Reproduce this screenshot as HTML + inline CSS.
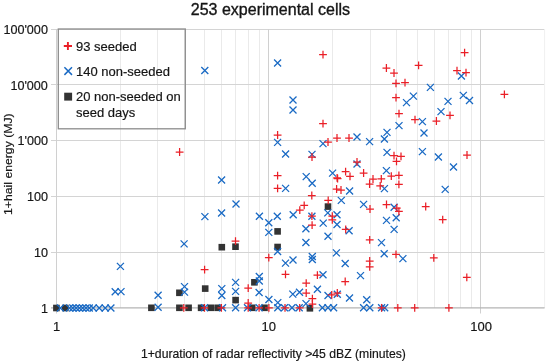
<!DOCTYPE html>
<html><head><meta charset="utf-8"><style>
html,body{margin:0;padding:0;background:#fff;}
svg{display:block;will-change:transform;}
text{font-family:"Liberation Sans",sans-serif;fill:#151515;stroke:#151515;stroke-width:0.18px;}
.ax{font-size:13px;}
.p{stroke:#ea1f27;stroke-width:1.25;fill:none;}
.x{stroke:#1a6ac4;stroke-width:1.3;fill:none;}
.s{fill:#333;}
</style></head><body>
<svg width="550" height="362" viewBox="0 0 550 362">
<rect width="550" height="362" fill="#fff"/>
<line x1="120.5" y1="29" x2="120.5" y2="308" stroke="#eaeaea" stroke-width="1"/>
<line x1="157.5" y1="29" x2="157.5" y2="308" stroke="#eaeaea" stroke-width="1"/>
<line x1="184.5" y1="29" x2="184.5" y2="308" stroke="#eaeaea" stroke-width="1"/>
<line x1="204.5" y1="29" x2="204.5" y2="308" stroke="#eaeaea" stroke-width="1"/>
<line x1="221.5" y1="29" x2="221.5" y2="308" stroke="#eaeaea" stroke-width="1"/>
<line x1="235.5" y1="29" x2="235.5" y2="308" stroke="#eaeaea" stroke-width="1"/>
<line x1="248.5" y1="29" x2="248.5" y2="308" stroke="#eaeaea" stroke-width="1"/>
<line x1="259.5" y1="29" x2="259.5" y2="308" stroke="#eaeaea" stroke-width="1"/>
<line x1="332.5" y1="29" x2="332.5" y2="308" stroke="#eaeaea" stroke-width="1"/>
<line x1="370.5" y1="29" x2="370.5" y2="308" stroke="#eaeaea" stroke-width="1"/>
<line x1="396.5" y1="29" x2="396.5" y2="308" stroke="#eaeaea" stroke-width="1"/>
<line x1="417.5" y1="29" x2="417.5" y2="308" stroke="#eaeaea" stroke-width="1"/>
<line x1="434.5" y1="29" x2="434.5" y2="308" stroke="#eaeaea" stroke-width="1"/>
<line x1="448.5" y1="29" x2="448.5" y2="308" stroke="#eaeaea" stroke-width="1"/>
<line x1="460.5" y1="29" x2="460.5" y2="308" stroke="#eaeaea" stroke-width="1"/>
<line x1="471.5" y1="29" x2="471.5" y2="308" stroke="#eaeaea" stroke-width="1"/>
<line x1="51" y1="29.5" x2="544.6" y2="29.5" stroke="#d4d4d4" stroke-width="1"/>
<line x1="51" y1="84.5" x2="544.6" y2="84.5" stroke="#d4d4d4" stroke-width="1"/>
<line x1="51" y1="140.5" x2="544.6" y2="140.5" stroke="#d4d4d4" stroke-width="1"/>
<line x1="51" y1="196.5" x2="544.6" y2="196.5" stroke="#d4d4d4" stroke-width="1"/>
<line x1="51" y1="252.5" x2="544.6" y2="252.5" stroke="#d4d4d4" stroke-width="1"/>
<line x1="56.5" y1="29" x2="56.5" y2="313.5" stroke="#d0d0d0" stroke-width="1"/>
<line x1="268.5" y1="29" x2="268.5" y2="313.5" stroke="#d0d0d0" stroke-width="1"/>
<line x1="480.5" y1="29" x2="480.5" y2="313.5" stroke="#d0d0d0" stroke-width="1"/>
<line x1="544.6" y1="29" x2="544.6" y2="308" stroke="#f0f0f0" stroke-width="1"/>
<line x1="51" y1="307.9" x2="544.6" y2="307.9" stroke="#b4b4b4" stroke-width="1.3"/>
<rect x="324.7" y="203.3" width="6.6" height="6.6" class="s"/>
<rect x="274.3" y="228.1" width="6.6" height="6.6" class="s"/>
<rect x="274.3" y="243.7" width="6.6" height="6.6" class="s"/>
<rect x="218.5" y="243.9" width="6.6" height="6.6" class="s"/>
<rect x="232.2" y="243.4" width="6.6" height="6.6" class="s"/>
<rect x="53.1" y="304.7" width="6.6" height="6.6" class="s"/>
<rect x="62.0" y="304.7" width="6.6" height="6.6" class="s"/>
<rect x="148.1" y="304.5" width="6.6" height="6.6" class="s"/>
<rect x="176.1" y="289.5" width="6.6" height="6.6" class="s"/>
<rect x="176.1" y="304.5" width="6.6" height="6.6" class="s"/>
<rect x="185.3" y="304.5" width="6.6" height="6.6" class="s"/>
<rect x="201.9" y="285.3" width="6.6" height="6.6" class="s"/>
<rect x="197.8" y="304.5" width="6.6" height="6.6" class="s"/>
<rect x="207.4" y="304.5" width="6.6" height="6.6" class="s"/>
<rect x="214.3" y="304.5" width="6.6" height="6.6" class="s"/>
<rect x="232.3" y="296.8" width="6.6" height="6.6" class="s"/>
<rect x="251.1" y="279.0" width="6.6" height="6.6" class="s"/>
<rect x="248.9" y="304.5" width="6.6" height="6.6" class="s"/>
<rect x="261.2" y="304.5" width="6.6" height="6.6" class="s"/>
<rect x="306.6" y="305.0" width="6.6" height="6.6" class="s"/>
<path d="M201.3 67.0l7 7M201.3 74.0l7 -7" class="x"/>
<path d="M274.1 59.5l7 7M274.1 66.5l7 -7" class="x"/>
<path d="M457.9 72.5l7 7M457.9 79.5l7 -7" class="x"/>
<path d="M426.9 83.9l7 7M426.9 90.9l7 -7" class="x"/>
<path d="M289.5 96.5l7 7M289.5 103.5l7 -7" class="x"/>
<path d="M289.5 106.5l7 7M289.5 113.5l7 -7" class="x"/>
<path d="M274.1 138.9l7 7M274.1 145.9l7 -7" class="x"/>
<path d="M319.5 140.1l7 7M319.5 147.1l7 -7" class="x"/>
<path d="M353.5 133.5l7 7M353.5 140.5l7 -7" class="x"/>
<path d="M366.1 138.1l7 7M366.1 145.1l7 -7" class="x"/>
<path d="M282.1 150.5l7 7M282.1 157.5l7 -7" class="x"/>
<path d="M308.5 150.9l7 7M308.5 157.9l7 -7" class="x"/>
<path d="M409.9 92.6l7 7M409.9 99.6l7 -7" class="x"/>
<path d="M403.0 99.1l7 7M403.0 106.1l7 -7" class="x"/>
<path d="M459.8 91.9l7 7M459.8 98.9l7 -7" class="x"/>
<path d="M466.0 97.0l7 7M466.0 104.0l7 -7" class="x"/>
<path d="M444.5 97.9l7 7M444.5 104.9l7 -7" class="x"/>
<path d="M437.5 108.1l7 7M437.5 115.1l7 -7" class="x"/>
<path d="M418.9 118.1l7 7M418.9 125.1l7 -7" class="x"/>
<path d="M395.5 122.1l7 7M395.5 129.1l7 -7" class="x"/>
<path d="M383.5 128.9l7 7M383.5 135.9l7 -7" class="x"/>
<path d="M420.5 129.5l7 7M420.5 136.5l7 -7" class="x"/>
<path d="M380.9 135.5l7 7M380.9 142.5l7 -7" class="x"/>
<path d="M383.5 148.9l7 7M383.5 155.9l7 -7" class="x"/>
<path d="M418.9 148.1l7 7M418.9 155.1l7 -7" class="x"/>
<path d="M434.9 153.5l7 7M434.9 160.5l7 -7" class="x"/>
<path d="M218.1 176.5l7 7M218.1 183.5l7 -7" class="x"/>
<path d="M232.5 200.5l7 7M232.5 207.5l7 -7" class="x"/>
<path d="M218.1 209.5l7 7M218.1 216.5l7 -7" class="x"/>
<path d="M353.5 160.5l7 7M353.5 167.5l7 -7" class="x"/>
<path d="M302.7 173.1l7 7M302.7 180.1l7 -7" class="x"/>
<path d="M308.7 179.7l7 7M308.7 186.7l7 -7" class="x"/>
<path d="M329.1 169.6l7 7M329.1 176.6l7 -7" class="x"/>
<path d="M282.1 184.9l7 7M282.1 191.9l7 -7" class="x"/>
<path d="M346.1 187.5l7 7M346.1 194.5l7 -7" class="x"/>
<path d="M337.8 196.9l7 7M337.8 203.9l7 -7" class="x"/>
<path d="M360.1 200.9l7 7M360.1 207.9l7 -7" class="x"/>
<path d="M382.9 167.1l7 7M382.9 174.1l7 -7" class="x"/>
<path d="M380.9 185.1l7 7M380.9 192.1l7 -7" class="x"/>
<path d="M450.0 163.5l7 7M450.0 170.5l7 -7" class="x"/>
<path d="M441.7 185.9l7 7M441.7 192.9l7 -7" class="x"/>
<path d="M390.6 203.8l7 7M390.6 210.8l7 -7" class="x"/>
<path d="M392.7 214.2l7 7M392.7 221.2l7 -7" class="x"/>
<path d="M383.0 216.9l7 7M383.0 223.9l7 -7" class="x"/>
<path d="M390.6 225.9l7 7M390.6 232.9l7 -7" class="x"/>
<path d="M345.6 227.3l7 7M345.6 234.3l7 -7" class="x"/>
<path d="M255.9 212.7l7 7M255.9 219.7l7 -7" class="x"/>
<path d="M265.3 219.2l7 7M265.3 226.2l7 -7" class="x"/>
<path d="M273.8 212.7l7 7M273.8 219.7l7 -7" class="x"/>
<path d="M289.7 211.3l7 7M289.7 218.3l7 -7" class="x"/>
<path d="M265.3 228.9l7 7M265.3 235.9l7 -7" class="x"/>
<path d="M274.1 248.0l7 7M274.1 255.0l7 -7" class="x"/>
<path d="M201.4 213.1l7 7M201.4 220.1l7 -7" class="x"/>
<path d="M180.6 240.4l7 7M180.6 247.4l7 -7" class="x"/>
<path d="M116.9 262.9l7 7M116.9 269.9l7 -7" class="x"/>
<path d="M111.7 288.3l7 7M111.7 295.3l7 -7" class="x"/>
<path d="M117.5 288.1l7 7M117.5 295.1l7 -7" class="x"/>
<path d="M154.6 291.8l7 7M154.6 298.8l7 -7" class="x"/>
<path d="M154.6 303.7l7 7M154.6 310.7l7 -7" class="x"/>
<path d="M181.0 283.1l7 7M181.0 290.1l7 -7" class="x"/>
<path d="M181.0 288.6l7 7M181.0 295.6l7 -7" class="x"/>
<path d="M201.0 304.3l7 7M201.0 311.3l7 -7" class="x"/>
<path d="M219.0 304.3l7 7M219.0 311.3l7 -7" class="x"/>
<path d="M218.3 285.1l7 7M218.3 292.1l7 -7" class="x"/>
<path d="M218.3 292.0l7 7M218.3 299.0l7 -7" class="x"/>
<path d="M232.1 278.9l7 7M232.1 285.9l7 -7" class="x"/>
<path d="M232.1 287.9l7 7M232.1 294.9l7 -7" class="x"/>
<path d="M232.1 304.3l7 7M232.1 311.3l7 -7" class="x"/>
<path d="M282.0 259.6l7 7M282.0 266.6l7 -7" class="x"/>
<path d="M289.5 256.5l7 7M289.5 263.5l7 -7" class="x"/>
<path d="M255.8 273.0l7 7M255.8 280.0l7 -7" class="x"/>
<path d="M255.8 277.5l7 7M255.8 284.5l7 -7" class="x"/>
<path d="M255.6 289.0l7 7M255.6 296.0l7 -7" class="x"/>
<path d="M244.0 304.3l7 7M244.0 311.3l7 -7" class="x"/>
<path d="M255.6 304.3l7 7M255.6 311.3l7 -7" class="x"/>
<path d="M265.4 296.0l7 7M265.4 303.0l7 -7" class="x"/>
<path d="M274.3 299.1l7 7M274.3 306.1l7 -7" class="x"/>
<path d="M274.3 304.3l7 7M274.3 311.3l7 -7" class="x"/>
<path d="M288.5 304.3l7 7M288.5 311.3l7 -7" class="x"/>
<path d="M295.7 304.3l7 7M295.7 311.3l7 -7" class="x"/>
<path d="M296.0 288.7l7 7M296.0 295.7l7 -7" class="x"/>
<path d="M289.3 290.6l7 7M289.3 297.6l7 -7" class="x"/>
<path d="M308.8 253.0l7 7M308.8 260.0l7 -7" class="x"/>
<path d="M308.8 256.0l7 7M308.8 263.0l7 -7" class="x"/>
<path d="M332.9 249.4l7 7M332.9 256.4l7 -7" class="x"/>
<path d="M341.7 260.0l7 7M341.7 267.0l7 -7" class="x"/>
<path d="M319.5 271.2l7 7M319.5 278.2l7 -7" class="x"/>
<path d="M313.9 285.8l7 7M313.9 292.8l7 -7" class="x"/>
<path d="M324.5 292.0l7 7M324.5 299.0l7 -7" class="x"/>
<path d="M333.8 290.8l7 7M333.8 297.8l7 -7" class="x"/>
<path d="M346.0 294.5l7 7M346.0 301.5l7 -7" class="x"/>
<path d="M302.5 300.1l7 7M302.5 307.1l7 -7" class="x"/>
<path d="M318.9 304.3l7 7M318.9 311.3l7 -7" class="x"/>
<path d="M324.5 304.3l7 7M324.5 311.3l7 -7" class="x"/>
<path d="M330.1 304.3l7 7M330.1 311.3l7 -7" class="x"/>
<path d="M378.0 239.1l7 7M378.0 246.1l7 -7" class="x"/>
<path d="M380.7 250.2l7 7M380.7 257.2l7 -7" class="x"/>
<path d="M357.0 272.1l7 7M357.0 279.1l7 -7" class="x"/>
<path d="M363.2 296.3l7 7M363.2 303.3l7 -7" class="x"/>
<path d="M360.1 304.3l7 7M360.1 311.3l7 -7" class="x"/>
<path d="M366.3 304.3l7 7M366.3 311.3l7 -7" class="x"/>
<path d="M378.1 304.3l7 7M378.1 311.3l7 -7" class="x"/>
<path d="M381.2 304.3l7 7M381.2 311.3l7 -7" class="x"/>
<path d="M399.4 255.1l7 7M399.4 262.1l7 -7" class="x"/>
<path d="M302.4 225.2l7 7M302.4 232.2l7 -7" class="x"/>
<path d="M319.7 219.6l7 7M319.7 226.6l7 -7" class="x"/>
<path d="M333.5 221.0l7 7M333.5 228.0l7 -7" class="x"/>
<path d="M324.5 232.8l7 7M324.5 239.8l7 -7" class="x"/>
<path d="M302.4 239.0l7 7M302.4 246.0l7 -7" class="x"/>
<path d="M308.4 212.7l7 7M308.4 219.7l7 -7" class="x"/>
<path d="M324.3 209.4l7 7M324.3 216.4l7 -7" class="x"/>
<path d="M333.5 211.3l7 7M333.5 218.3l7 -7" class="x"/>
<path d="M56.9 304.5l7 7M56.9 311.5l7 -7" class="x"/>
<path d="M66.0 304.5l7 7M66.0 311.5l7 -7" class="x"/>
<path d="M69.3 304.5l7 7M69.3 311.5l7 -7" class="x"/>
<path d="M72.6 304.5l7 7M72.6 311.5l7 -7" class="x"/>
<path d="M75.9 304.5l7 7M75.9 311.5l7 -7" class="x"/>
<path d="M79.2 304.5l7 7M79.2 311.5l7 -7" class="x"/>
<path d="M82.5 304.5l7 7M82.5 311.5l7 -7" class="x"/>
<path d="M85.8 304.5l7 7M85.8 311.5l7 -7" class="x"/>
<path d="M89.7 304.5l7 7M89.7 311.5l7 -7" class="x"/>
<path d="M95.7 304.5l7 7M95.7 311.5l7 -7" class="x"/>
<path d="M101.7 304.5l7 7M101.7 311.5l7 -7" class="x"/>
<path d="M107.4 304.5l7 7M107.4 311.5l7 -7" class="x"/>
<path d="M281.0 304.3l7 7M281.0 311.3l7 -7" class="x"/>
<path d="M319.1 54.6h7.8M323.0 50.7v7.8" class="p"/>
<path d="M382.5 68.0h7.8M386.4 64.1v7.8" class="p"/>
<path d="M390.1 73.0h7.8M394.0 69.1v7.8" class="p"/>
<path d="M414.7 65.4h7.8M418.6 61.5v7.8" class="p"/>
<path d="M460.7 52.6h7.8M464.6 48.7v7.8" class="p"/>
<path d="M453.1 70.6h7.8M457.0 66.7v7.8" class="p"/>
<path d="M462.1 72.6h7.8M466.0 68.7v7.8" class="p"/>
<path d="M392.1 83.4h7.8M396.0 79.5v7.8" class="p"/>
<path d="M401.1 82.6h7.8M405.0 78.7v7.8" class="p"/>
<path d="M500.5 94.3h7.8M504.4 90.4v7.8" class="p"/>
<path d="M175.7 152.0h7.8M179.6 148.1v7.8" class="p"/>
<path d="M319.1 123.6h7.8M323.0 119.7v7.8" class="p"/>
<path d="M273.7 135.0h7.8M277.6 131.1v7.8" class="p"/>
<path d="M324.1 142.0h7.8M328.0 138.1v7.8" class="p"/>
<path d="M333.1 138.0h7.8M337.0 134.1v7.8" class="p"/>
<path d="M345.1 138.0h7.8M349.0 134.1v7.8" class="p"/>
<path d="M392.1 97.6h7.8M396.0 93.7v7.8" class="p"/>
<path d="M395.1 113.6h7.8M399.0 109.7v7.8" class="p"/>
<path d="M446.1 115.4h7.8M450.0 111.5v7.8" class="p"/>
<path d="M411.1 119.6h7.8M415.0 115.7v7.8" class="p"/>
<path d="M432.5 121.0h7.8M436.4 117.1v7.8" class="p"/>
<path d="M390.1 155.6h7.8M394.0 151.7v7.8" class="p"/>
<path d="M397.1 156.4h7.8M401.0 152.5v7.8" class="p"/>
<path d="M463.1 155.0h7.8M467.0 151.1v7.8" class="p"/>
<path d="M308.1 157.0h7.8M312.0 153.1v7.8" class="p"/>
<path d="M353.1 162.0h7.8M357.0 158.1v7.8" class="p"/>
<path d="M273.7 175.6h7.8M277.6 171.7v7.8" class="p"/>
<path d="M333.2 177.9h7.8M337.1 174.0v7.8" class="p"/>
<path d="M341.7 171.6h7.8M345.6 167.7v7.8" class="p"/>
<path d="M346.1 176.4h7.8M350.0 172.5v7.8" class="p"/>
<path d="M359.7 173.0h7.8M363.6 169.1v7.8" class="p"/>
<path d="M369.1 179.0h7.8M373.0 175.1v7.8" class="p"/>
<path d="M365.7 184.0h7.8M369.6 180.1v7.8" class="p"/>
<path d="M273.7 188.4h7.8M277.6 184.5v7.8" class="p"/>
<path d="M332.7 189.0h7.8M336.6 185.1v7.8" class="p"/>
<path d="M337.1 190.0h7.8M341.0 186.1v7.8" class="p"/>
<path d="M307.9 195.5h7.8M311.8 191.6v7.8" class="p"/>
<path d="M324.3 200.4h7.8M328.2 196.5v7.8" class="p"/>
<path d="M366.1 209.0h7.8M370.0 205.1v7.8" class="p"/>
<path d="M300.3 205.3h7.8M304.2 201.4v7.8" class="p"/>
<path d="M295.9 210.2h7.8M299.8 206.3v7.8" class="p"/>
<path d="M392.6 161.3h7.8M396.5 157.4v7.8" class="p"/>
<path d="M387.4 176.1h7.8M391.3 172.2v7.8" class="p"/>
<path d="M395.0 175.4h7.8M398.9 171.5v7.8" class="p"/>
<path d="M377.4 178.9h7.8M381.3 175.0v7.8" class="p"/>
<path d="M376.3 185.8h7.8M380.2 181.9v7.8" class="p"/>
<path d="M395.0 184.4h7.8M398.9 180.5v7.8" class="p"/>
<path d="M421.8 206.5h7.8M425.7 202.6v7.8" class="p"/>
<path d="M438.8 219.7h7.8M442.7 215.8v7.8" class="p"/>
<path d="M382.6 204.5h7.8M386.5 200.6v7.8" class="p"/>
<path d="M392.9 208.0h7.8M396.8 204.1v7.8" class="p"/>
<path d="M395.0 211.4h7.8M398.9 207.5v7.8" class="p"/>
<path d="M341.8 229.4h7.8M345.7 225.5v7.8" class="p"/>
<path d="M231.6 241.1h7.8M235.5 237.2v7.8" class="p"/>
<path d="M179.9 307.8h7.8M183.8 303.9v7.8" class="p"/>
<path d="M200.7 269.6h7.8M204.6 265.7v7.8" class="p"/>
<path d="M200.6 307.8h7.8M204.5 303.9v7.8" class="p"/>
<path d="M217.5 307.8h7.8M221.4 303.9v7.8" class="p"/>
<path d="M264.9 257.7h7.8M268.8 253.8v7.8" class="p"/>
<path d="M281.6 274.4h7.8M285.5 270.5v7.8" class="p"/>
<path d="M244.3 288.2h7.8M248.2 284.3v7.8" class="p"/>
<path d="M244.3 303.0h7.8M248.2 299.1v7.8" class="p"/>
<path d="M244.3 307.8h7.8M248.2 303.9v7.8" class="p"/>
<path d="M255.2 307.8h7.8M259.1 303.9v7.8" class="p"/>
<path d="M265.0 307.8h7.8M268.9 303.9v7.8" class="p"/>
<path d="M281.1 307.8h7.8M285.0 303.9v7.8" class="p"/>
<path d="M295.8 307.8h7.8M299.7 303.9v7.8" class="p"/>
<path d="M313.5 275.2h7.8M317.4 271.3v7.8" class="p"/>
<path d="M302.3 283.1h7.8M306.2 279.2v7.8" class="p"/>
<path d="M341.3 281.5h7.8M345.2 277.6v7.8" class="p"/>
<path d="M302.3 293.0h7.8M306.2 289.1v7.8" class="p"/>
<path d="M308.5 298.6h7.8M312.4 294.7v7.8" class="p"/>
<path d="M308.5 304.0h7.8M312.4 300.1v7.8" class="p"/>
<path d="M327.8 294.9h7.8M331.7 291.0v7.8" class="p"/>
<path d="M333.4 293.0h7.8M337.3 289.1v7.8" class="p"/>
<path d="M365.8 239.8h7.8M369.7 235.9v7.8" class="p"/>
<path d="M392.1 254.4h7.8M396.0 250.5v7.8" class="p"/>
<path d="M365.8 261.0h7.8M369.7 257.1v7.8" class="p"/>
<path d="M365.8 266.8h7.8M369.7 262.9v7.8" class="p"/>
<path d="M377.7 307.8h7.8M381.6 303.9v7.8" class="p"/>
<path d="M393.9 307.8h7.8M397.8 303.9v7.8" class="p"/>
<path d="M429.9 257.8h7.8M433.8 253.9v7.8" class="p"/>
<path d="M462.9 277.3h7.8M466.8 273.4v7.8" class="p"/>
<path d="M410.8 307.8h7.8M414.7 303.9v7.8" class="p"/>
<path d="M445.0 307.8h7.8M448.9 303.9v7.8" class="p"/>
<path d="M308.2 225.2h7.8M312.1 221.3v7.8" class="p"/>
<path d="M308.0 216.2h7.8M311.9 212.3v7.8" class="p"/>
<path d="M328.4 216.2h7.8M332.3 212.3v7.8" class="p"/>
<path d="M328.4 219.8h7.8M332.3 215.9v7.8" class="p"/>
<path d="M333.7 178.6h7.8M337.6 174.7v7.8" class="p"/>
<text x="270.4" y="15" text-anchor="middle" font-size="16" style="stroke-width:0.35px">253 experimental cells</text>
<text x="47.9" y="312.70" text-anchor="end" class="ax" style="font-size:12.6px">1</text><text x="47.9" y="256.90" text-anchor="end" class="ax" style="font-size:12.6px">10</text><text x="47.9" y="201.10" text-anchor="end" class="ax" style="font-size:12.6px">100</text><text x="47.9" y="145.30" text-anchor="end" class="ax" style="font-size:12.6px">1'000</text><text x="47.9" y="89.50" text-anchor="end" class="ax" style="font-size:12.6px">10'000</text><text x="47.9" y="33.70" text-anchor="end" class="ax" style="font-size:12.6px">100'000</text>
<text x="56.50" y="330.5" text-anchor="middle" class="ax">1</text><text x="268.80" y="330.5" text-anchor="middle" class="ax">10</text><text x="481.10" y="330.5" text-anchor="middle" class="ax">100</text>
<text x="273.4" y="357.5" text-anchor="middle" font-size="12.2">1+duration of radar reflectivity &gt;45 dBZ (minutes)</text>
<text transform="translate(12.2 164.2) rotate(-90) scale(1.2 1)" text-anchor="middle" font-size="10.2">1+hail energy (MJ)</text>
<rect x="58.3" y="29" width="127" height="99.8" fill="none" stroke="#8c8c8c" stroke-width="1.3"/>
<path d="M63.8 46h8.2M67.9 41.9v8.2" class="p" style="stroke-width:1.9"/>
<path d="M64.4 67.3l7.6 7.6M64.4 74.9l7.6 -7.6" class="x" style="stroke-width:1.5"/>
<rect x="64.2" y="92.7" width="7.9" height="7.9" class="s"/>
<text x="76" y="51" font-size="13">93 seeded</text>
<text x="76" y="76" font-size="13">140 non-seeded</text>
<text x="76" y="101" font-size="13">20 non-seeded on</text>
<text x="76" y="117" font-size="13">seed days</text>
</svg>
</body></html>
